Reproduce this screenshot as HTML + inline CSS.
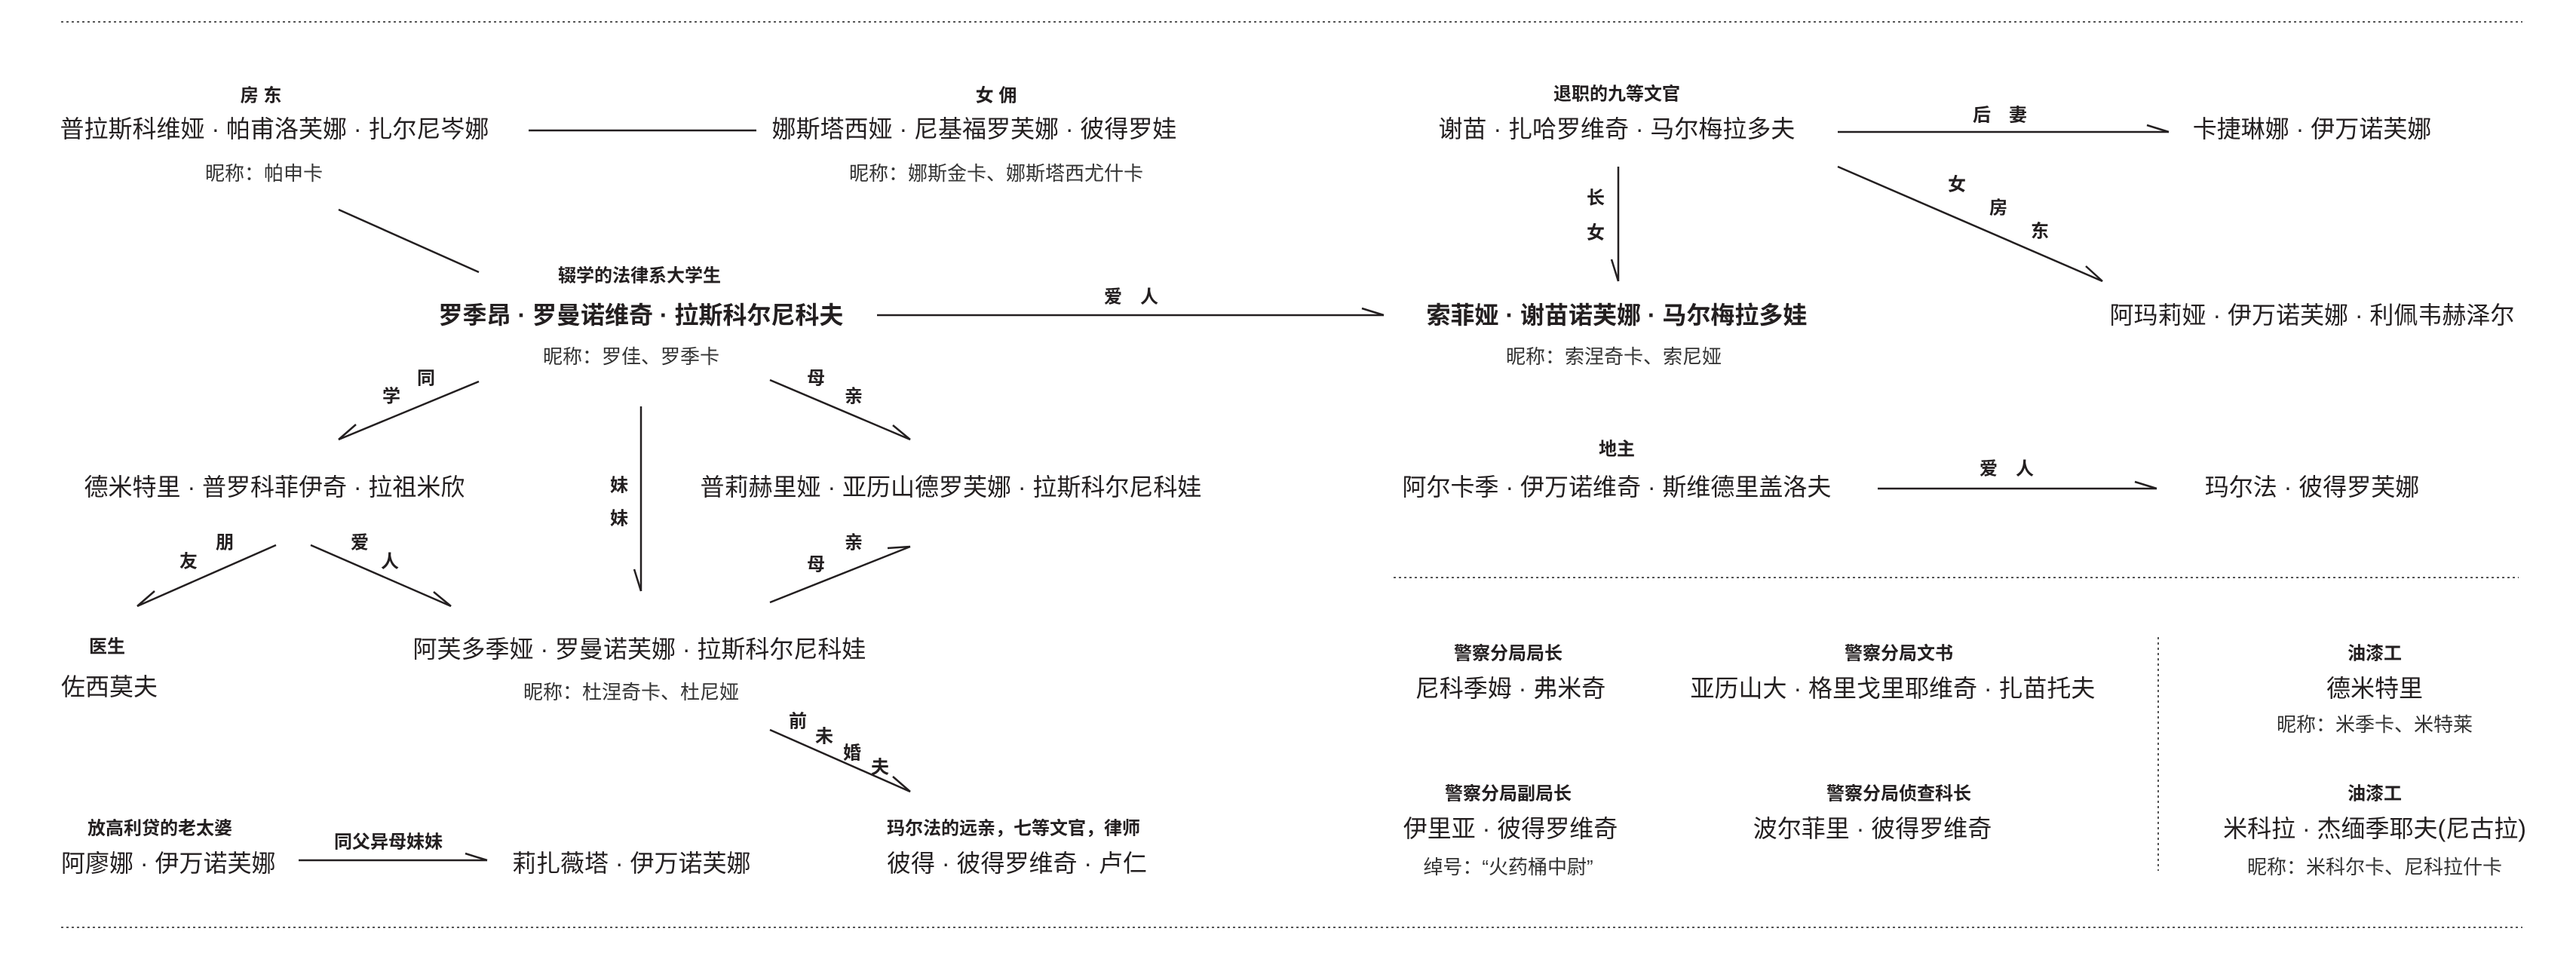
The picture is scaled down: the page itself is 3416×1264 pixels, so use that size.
<!DOCTYPE html>
<html><head><meta charset="utf-8">
<style>
html,body{margin:0;padding:0;background:#fff;}
svg{display:block;}
text{font-family:"Liberation Sans","Noto Sans CJK SC",sans-serif;fill:#231f20;dominant-baseline:central;}
.n{font-size:32px;}
.nb{font-size:32px;font-weight:bold;}
.r{font-size:24px;font-weight:bold;}
.k{font-size:26px;fill:#333;}
.c{font-size:24px;font-weight:bold;}
line,polyline{stroke:#231f20;stroke-width:2.5;fill:none;}
.d{stroke:#555;stroke-width:2;stroke-dasharray:3 4;}
</style></head><body>
<svg width="3416" height="1264" viewBox="0 0 3416 1264" xmlns="http://www.w3.org/2000/svg">
<line class="d" x1="81" y1="29" x2="3345" y2="29"/>
<line class="d" x1="81" y1="1230" x2="3345" y2="1230"/>
<line class="d" x1="1848" y1="766" x2="3340" y2="766"/>
<line class="d" x1="2862" y1="845" x2="2862" y2="1155"/>

<text class="r" x="346" y="127" text-anchor="middle">房 东</text>
<text class="n" x="364" y="171" text-anchor="middle">普拉斯科维娅 · 帕甫洛芙娜 · 扎尔尼岑娜</text>
<text class="k" x="350" y="230" text-anchor="middle">昵称：帕申卡</text>

<text class="r" x="1321" y="127" text-anchor="middle">女 佣</text>
<text class="n" x="1292" y="171" text-anchor="middle">娜斯塔西娅 · 尼基福罗芙娜 · 彼得罗娃</text>
<text class="k" x="1321" y="230" text-anchor="middle">昵称：娜斯金卡、娜斯塔西尤什卡</text>

<line x1="701" y1="173" x2="1003" y2="173"/>
<line x1="449" y1="278" x2="635" y2="361"/>

<text class="r" x="848" y="366" text-anchor="middle">辍学的法律系大学生</text>
<text class="nb" x="850" y="418" text-anchor="middle">罗季昂 · 罗曼诺维奇 · 拉斯科尔尼科夫</text>
<text class="k" x="837" y="473" text-anchor="middle">昵称：罗佳、罗季卡</text>

<line x1="1163" y1="418" x2="1835" y2="418"/><line x1="1835" y1="418" x2="1806" y2="409"/>
<text class="c" x="1500" y="394" text-anchor="middle">爱　人</text>

<line x1="635" y1="506" x2="449" y2="583"/><line x1="449" y1="583" x2="472" y2="563"/>
<text class="c" x="519" y="526" text-anchor="middle">学</text><text class="c" x="565" y="502" text-anchor="middle">同</text>

<line x1="1021" y1="504" x2="1207" y2="583"/><line x1="1207" y1="583" x2="1184" y2="564"/>
<text class="c" x="1082" y="502" text-anchor="middle">母</text><text class="c" x="1132" y="526" text-anchor="middle">亲</text>

<line x1="850" y1="539" x2="850" y2="784"/><line x1="850" y1="784" x2="841" y2="755"/>
<text class="c" x="821" y="644" text-anchor="middle">妹</text><text class="c" x="821" y="688" text-anchor="middle">妹</text>

<text class="n" x="364" y="646" text-anchor="middle">德米特里 · 普罗科菲伊奇 · 拉祖米欣</text>
<text class="n" x="1261" y="646" text-anchor="middle">普莉赫里娅 · 亚历山德罗芙娜 · 拉斯科尔尼科娃</text>

<line x1="366" y1="723" x2="182" y2="804"/><line x1="182" y1="804" x2="205" y2="784"/>
<text class="c" x="250" y="745" text-anchor="middle">友</text><text class="c" x="298" y="720" text-anchor="middle">朋</text>

<line x1="412" y1="723" x2="598" y2="804"/><line x1="598" y1="804" x2="575" y2="785"/>
<text class="c" x="477" y="720" text-anchor="middle">爱</text><text class="c" x="517" y="745" text-anchor="middle">人</text>

<line x1="1021" y1="799" x2="1207" y2="725"/><line x1="1207" y1="725" x2="1177" y2="727"/>
<text class="c" x="1132" y="720" text-anchor="middle">亲</text><text class="c" x="1082" y="749" text-anchor="middle">母</text>

<text class="r" x="118" y="858">医生</text>
<text class="n" x="81" y="911">佐西莫夫</text>

<text class="n" x="848" y="861" text-anchor="middle">阿芙多季娅 · 罗曼诺芙娜 · 拉斯科尔尼科娃</text>
<text class="k" x="837" y="918" text-anchor="middle">昵称：杜涅奇卡、杜尼娅</text>

<line x1="1021" y1="968" x2="1207" y2="1050"/><line x1="1207" y1="1050" x2="1184" y2="1030"/>
<text class="c" x="1058" y="957" text-anchor="middle">前</text><text class="c" x="1093" y="977" text-anchor="middle">未</text>
<text class="c" x="1130" y="999" text-anchor="middle">婚</text><text class="c" x="1167" y="1018" text-anchor="middle">夫</text>

<text class="r" x="116" y="1099">放高利贷的老太婆</text>
<text class="n" x="81" y="1145">阿廖娜 · 伊万诺芙娜</text>
<line x1="396" y1="1141" x2="646" y2="1141"/><line x1="646" y1="1141" x2="617" y2="1132"/>
<text class="c" x="515" y="1117" text-anchor="middle">同父异母妹妹</text>
<text class="n" x="679" y="1145">莉扎薇塔 · 伊万诺芙娜</text>

<text class="r" x="1176" y="1099">玛尔法的远亲，七等文官，律师</text>
<text class="n" x="1176" y="1145">彼得 · 彼得罗维奇 · 卢仁</text>

<text class="r" x="2144" y="125" text-anchor="middle">退职的九等文官</text>
<text class="n" x="2144" y="171" text-anchor="middle">谢苗 · 扎哈罗维奇 · 马尔梅拉多夫</text>
<line x1="2437" y1="175" x2="2876" y2="175"/><line x1="2876" y1="175" x2="2847" y2="166"/>
<text class="c" x="2652" y="153" text-anchor="middle">后　妻</text>
<text class="n" x="3066" y="171" text-anchor="middle">卡捷琳娜 · 伊万诺芙娜</text>

<line x1="2146" y1="221" x2="2146" y2="373"/><line x1="2146" y1="373" x2="2137" y2="344"/>
<text class="c" x="2116" y="263" text-anchor="middle">长</text><text class="c" x="2116" y="309" text-anchor="middle">女</text>

<line x1="2437" y1="221" x2="2788" y2="373"/><line x1="2788" y1="373" x2="2766" y2="353"/>
<text class="c" x="2595" y="245" text-anchor="middle">女</text><text class="c" x="2650" y="276" text-anchor="middle">房</text>
<text class="c" x="2705" y="307" text-anchor="middle">东</text>

<text class="nb" x="2144" y="418" text-anchor="middle">索菲娅 · 谢苗诺芙娜 · 马尔梅拉多娃</text>
<text class="k" x="2140" y="473" text-anchor="middle">昵称：索涅奇卡、索尼娅</text>
<text class="n" x="3066" y="418" text-anchor="middle">阿玛莉娅 · 伊万诺芙娜 · 利佩韦赫泽尔</text>

<text class="r" x="2144" y="596" text-anchor="middle">地主</text>
<text class="n" x="2144" y="646" text-anchor="middle">阿尔卡季 · 伊万诺维奇 · 斯维德里盖洛夫</text>
<line x1="2490" y1="648" x2="2860" y2="648"/><line x1="2860" y1="648" x2="2831" y2="639"/>
<text class="c" x="2661" y="622" text-anchor="middle">爱　人</text>
<text class="n" x="3066" y="646" text-anchor="middle">玛尔法 · 彼得罗芙娜</text>

<text class="r" x="2000" y="867" text-anchor="middle">警察分局局长</text>
<text class="n" x="2003" y="913" text-anchor="middle">尼科季姆 · 弗米奇</text>
<text class="r" x="2518" y="867" text-anchor="middle">警察分局文书</text>
<text class="n" x="2510" y="913" text-anchor="middle">亚历山大 · 格里戈里耶维奇 · 扎苗托夫</text>

<text class="r" x="2000" y="1053" text-anchor="middle">警察分局副局长</text>
<text class="n" x="2003" y="1099" text-anchor="middle">伊里亚 · 彼得罗维奇</text>
<text class="k" x="2000" y="1150" text-anchor="middle">绰号：“火药桶中尉”</text>
<text class="r" x="2518" y="1053" text-anchor="middle">警察分局侦查科长</text>
<text class="n" x="2483" y="1099" text-anchor="middle">波尔菲里 · 彼得罗维奇</text>

<text class="r" x="3149" y="867" text-anchor="middle">油漆工</text>
<text class="n" x="3149" y="913" text-anchor="middle">德米特里</text>
<text class="k" x="3149" y="961" text-anchor="middle">昵称：米季卡、米特莱</text>
<text class="r" x="3149" y="1053" text-anchor="middle">油漆工</text>
<text class="n" x="3149" y="1099" text-anchor="middle">米科拉 · 杰缅季耶夫(尼古拉)</text>
<text class="k" x="3149" y="1150" text-anchor="middle">昵称：米科尔卡、尼科拉什卡</text>
</svg>
</body></html>
